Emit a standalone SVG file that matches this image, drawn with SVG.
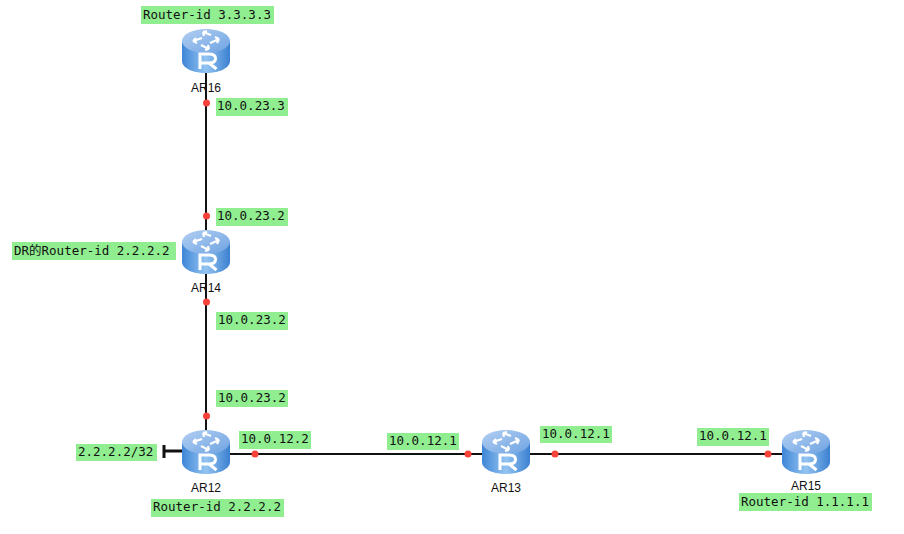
<svg xmlns="http://www.w3.org/2000/svg" width="904" height="534" viewBox="0 0 904 534">
<style>
.bg{fill:#fff}
.lbl rect{fill:#90ee90}
.lbl text{font-family:"DejaVu Sans Mono","Noto Sans CJK SC",monospace;font-size:12.5px;fill:#111}
.name{font-family:"Liberation Sans",Arial,sans-serif;font-size:12px;fill:#111;text-anchor:middle}
.link{stroke:#111;stroke-width:2;fill:none}
.stub{stroke:#111;stroke-width:3;fill:none}
.dot{fill:#f9423a}
.arr{fill:none;stroke:#fff;stroke-width:2.200}
</style>
<defs>
<linearGradient id="side" x1="0" x2="1" y1="0" y2="0">
<stop offset="0" stop-color="#3f86d6"/><stop offset=".5" stop-color="#93c4f2"/><stop offset="1" stop-color="#3b80d0"/>
</linearGradient>
<linearGradient id="top" x1="0" x2="1" y1="0" y2="1">
<stop offset="0" stop-color="#b2cff2"/><stop offset="1" stop-color="#6fa3e2"/>
</linearGradient>
<g id="router">
<path d="M-24-10V10C-24 17-13 22 0 22S24 17 24 10V-10Z" fill="url(#side)"/>
<ellipse cx="0" cy="-10" rx="24" ry="12" fill="url(#top)"/>
<g class="arr">
<path d="M-13-10-4-13M-13-10l3-3M-13-10l4 2"/>
<path d="M13-12 4-8M13-12l-4-2M13-12l-2 4"/>
<path d="M-3-19 5-16M-3-19l4-1M-3-19l1 4"/>
<path d="M3-2-5-6M3-2l-4 1M3-2l-1-4"/>
</g>
<path d="M-6 18V3H3C7.500 3 9.500 5 9.500 7.500S7.500 12 3 12H-6M3 12 10.500 18" fill="none" stroke="#fff" stroke-width="3"/>
</g>
</defs>
<rect class="bg" width="904" height="534"/>
<g id="connectors">
<path class="link" d="M206 70V454"/>
<path class="link" d="M206 454H806"/>
<path class="stub" d="M163 451H182"/>
<path class="stub" d="M164 445V458"/>
</g>
<g id="AR16"><use href="#router" x="206" y="51"/><text class="name" x="206" y="92">AR16</text></g>
<g id="AR14"><use href="#router" x="206" y="252"/><text class="name" x="206" y="292">AR14</text></g>
<g id="AR12"><use href="#router" x="206" y="452"/><text class="name" x="206" y="492">AR12</text></g>
<g id="AR13"><use href="#router" x="506" y="452"/><text class="name" x="506" y="492">AR13</text></g>
<g id="AR15"><use href="#router" x="806" y="452"/><text class="name" x="806" y="490">AR15</text></g>
<g id="dots">
<circle class="dot" cx="206.500" cy="103" r="3.500"/>
<circle class="dot" cx="206.500" cy="216" r="3.500"/>
<circle class="dot" cx="206.500" cy="302" r="3.500"/>
<circle class="dot" cx="206.500" cy="416" r="3.500"/>
<circle class="dot" cx="255" cy="454" r="3.500"/>
<circle class="dot" cx="468" cy="454" r="3.500"/>
<circle class="dot" cx="555" cy="454" r="3.500"/>
<circle class="dot" cx="768" cy="454" r="3.500"/>
</g>
<g id="labels" class="lbl">
<g id="l1"><rect x="141" y="6" width="133" height="18"/><text x="143" y="19">Router-id 3.3.3.3</text></g>
<g id="l2"><rect x="216" y="98" width="72" height="18"/><text x="217" y="110">10.0.23.3</text></g>
<g id="l3"><rect x="216" y="208" width="72" height="18"/><text x="217" y="220">10.0.23.2</text></g>
<g id="l4"><rect x="12" y="242" width="164" height="18"/><text x="14" y="255">DR的Router-id 2.2.2.2</text></g>
<g id="l5"><rect x="216" y="312" width="72" height="18"/><text x="218" y="324">10.0.23.2</text></g>
<g id="l6"><rect x="216" y="390" width="72" height="17"/><text x="218" y="402">10.0.23.2</text></g>
<g id="l7"><rect x="239" y="431" width="72" height="18"/><text x="241" y="443">10.0.12.2</text></g>
<g id="l8"><rect x="387" y="433" width="72" height="17"/><text x="389" y="445">10.0.12.1</text></g>
<g id="l9"><rect x="540" y="426" width="72" height="17"/><text x="542" y="438">10.0.12.1</text></g>
<g id="l10"><rect x="697" y="428" width="72" height="18"/><text x="699" y="440">10.0.12.1</text></g>
<g id="l11"><rect x="76" y="444" width="81" height="17"/><text x="78" y="456">2.2.2.2/32</text></g>
<g id="l12"><rect x="151" y="499" width="133" height="18"/><text x="153" y="511">Router-id 2.2.2.2</text></g>
<g id="l13"><rect x="739" y="493" width="133" height="18"/><text x="741" y="506">Router-id 1.1.1.1</text></g>
</g>
</svg>
